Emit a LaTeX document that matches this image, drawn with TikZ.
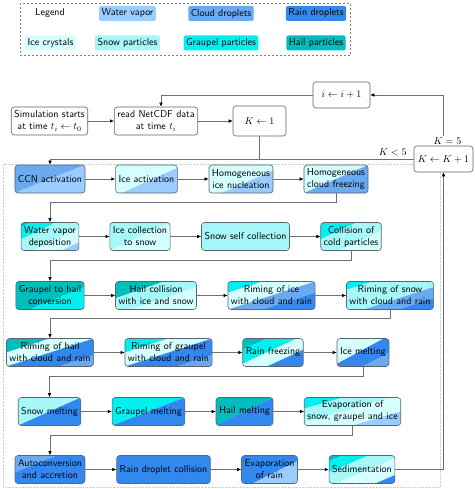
\documentclass[tikz,border=0pt]{standalone}
\usetikzlibrary{calc,positioning,arrows.meta}
\definecolor{vapor}{HTML}{99CCFF}
\definecolor{cloud}{HTML}{6AAAF0}
\definecolor{rain}{HTML}{3388EE}
\definecolor{ice}{HTML}{D5FFFF}
\definecolor{snow}{HTML}{A6F8F8}
\definecolor{graupel}{HTML}{00F0F0}
\definecolor{hail}{HTML}{00BEBE}
\definecolor{nodeline}{HTML}{5A6470}
\definecolor{connline}{HTML}{707070}
\newcommand\bandfill[3]{%
  \fill[#3,draw=none]
   ($(path picture bounding box.north west)!#1!(path picture bounding box.south east)+(path picture bounding box.north east)-(path picture bounding box.south west)$)
   -- ($(path picture bounding box.north west)!#2!(path picture bounding box.south east)+(path picture bounding box.north east)-(path picture bounding box.south west)$)
   -- ($(path picture bounding box.north west)!#2!(path picture bounding box.south east)-(path picture bounding box.north east)+(path picture bounding box.south west)$)
   -- ($(path picture bounding box.north west)!#1!(path picture bounding box.south east)-(path picture bounding box.north east)+(path picture bounding box.south west)$)
   -- cycle;}
\tikzset{
  proc/.style={draw=nodeline, line width=0.6pt, rounded corners=3pt, align=center,
    inner xsep=3pt, inner ysep=2pt, minimum height=28pt, font=\sffamily},
  mix/.style={path picture={\foreach \cc/\aa/\bb in {#1}{\bandfill{\aa}{\bb}{\cc}}}},
  ctrl/.style={draw=nodeline, line width=0.6pt, fill=white, rounded corners=3pt, align=center,
    inner xsep=3pt, inner ysep=2pt, minimum height=28pt, font=\sffamily},
  leg/.style={rounded corners=2pt, inner xsep=2.5pt, inner ysep=2pt, minimum height=15pt, font=\sffamily},
  conn/.style={draw=connline, line width=0.6pt, -{Latex[length=4pt,width=3.5pt,color=black]}},
  plain/.style={draw=connline, line width=0.6pt},
}
\begin{document}
\begin{tikzpicture}[x=1pt,y=-1pt]
\useasboundingbox (0,0) rectangle (474,489);
% legend
\draw[dashed, black!50, dash pattern=on 2pt off 2pt] (20,3) rectangle (350,55.5);
\node[font=\sffamily] (lg) at (50,13.5) {Legend};
\node[leg, fill=vapor] (lv) at (127.5,13.5) {Water vapor};
\node[leg, fill=cloud] (lc) at (221,13.5) {Cloud droplets};
\node[leg, fill=rain] (lr) at (316,13.5) {Rain droplets};
\node[leg, fill=ice] (li) at (50.5,43) {Ice crystals};
\node[leg, fill=snow] (ls) at (127.5,43) {Snow particles};
\node[leg, fill=graupel] (lgr) at (221,43) {Graupel particles};
\node[leg, fill=hail] (lh) at (316,43) {Hail particles};
% frame
\draw[densely dotted, black!18] (3,164) rectangle (440,487);
% control nodes
\node[ctrl] (sim) at (49.5,121) {Simulation starts\\at time $t_i\leftarrow t_0$};
\node[ctrl] (read) at (156,121) {read NetCDF data\\at time $t_i$};
\node[ctrl, minimum width=53pt, minimum height=30pt] (k1) at (259.5,121) {$K\leftarrow 1$};
\node[ctrl, minimum width=57pt, minimum height=26pt] (inc) at (341.5,95) {$i\leftarrow i+1$};
\node[ctrl, minimum width=59pt, minimum height=26pt] (kk) at (443.5,159) {$K\leftarrow K+1$};
\node[above=0pt of kk.north, xshift=4pt, inner sep=1pt] (k5) {$K=5$};
\node[above left=2pt and 6pt of kk.west, inner sep=1pt] (k4) {$K<5$};
% row 1
\node[proc, mix={cloud/0/0.5,vapor/0.5/1}] (ccn) at (50,179) {CCN activation};
\node[proc, mix={ice/0/0.55,vapor/0.55/1}] (ia) at (146.5,179) {Ice activation};
\node[proc, mix={ice/0/0.6,vapor/0.6/1}] (hin) at (241,179) {Homogeneous\\ice nucleation};
\node[proc, mix={ice/0/0.5,cloud/0.5/1}] (hcf) at (336,179) {Homogeneous\\cloud freezing};
% row 2
\node[proc, mix={hail/0/0.08,graupel/0.08/0.3,snow/0.3/0.6,ice/0.6/0.85,vapor/0.85/1}] (wvd) at (50,236.5) {Water vapor\\deposition};
\node[proc, mix={snow/0/0.5,ice/0.5/1}] (ics) at (140,236.5) {Ice collection\\to snow};
\node[proc, mix={snow/0/1}] (ssc) at (245.5,236.5) {Snow self collection};
\node[proc, mix={graupel/0/0.3,snow/0.3/0.65,ice/0.65/1}] (ccp) at (351,236.5) {Collision of\\cold particles};
% row 3
\node[proc, mix={hail/0/0.6,graupel/0.6/1}] (ghc) at (50,295.5) {Graupel to hail\\conversion};
\node[proc, mix={hail/0/0.3,snow/0.3/0.6,ice/0.6/1}] (hcis) at (156,295.5) {Hail collision\\with ice and snow};
\node[proc, mix={graupel/0/0.2,ice/0.2/0.5,cloud/0.5/0.7,rain/0.7/1}] (rimi) at (271.5,295.5) {Riming of ice\\with cloud and rain};
\node[proc, mix={graupel/0/0.15,snow/0.15/0.6,cloud/0.6/0.8,rain/0.8/1}] (rims) at (390,295.5) {Riming of snow\\with cloud and rain};
% row 4
\node[proc, mix={hail/0/0.25,ice/0.25/0.5,rain/0.5/0.8,cloud/0.8/1}] (rimh) at (50,352.5) {Riming of hail\\with cloud and rain};
\node[proc, mix={graupel/0/0.25,ice/0.25/0.5,rain/0.5/0.8,cloud/0.8/1}] (rimg) at (168.5,352.5) {Riming of graupel\\with cloud and rain};
\node[proc, mix={hail/0/0.2,graupel/0.2/0.45,ice/0.45/0.7,rain/0.7/1}] (rf) at (273,352.5) {Rain freezing};
\node[proc, mix={ice/0/0.45,rain/0.45/0.75,cloud/0.75/1}] (im) at (363,352.5) {Ice melting};
% row 5
\node[proc, mix={snow/0/0.5,rain/0.5/1}] (sm) at (49.5,411.5) {Snow melting};
\node[proc, mix={graupel/0/0.5,rain/0.5/1}] (gm) at (148.5,411.5) {Graupel melting};
\node[proc, mix={hail/0/0.5,rain/0.5/1}] (hm) at (244.5,411.5) {Hail melting};
\node[proc, mix={graupel/0/0.2,snow/0.2/0.45,ice/0.45/0.75,vapor/0.75/1}] (evs) at (352.5,411.5) {Evaporation of\\snow, graupel and ice};
% row 6
\node[proc, mix={cloud/0/0.3,rain/0.3/1}] (ac) at (50,469.5) {Autoconversion\\and accretion};
\node[proc, mix={rain/0/1}] (rdc) at (163.5,469.5) {Rain droplet collision};
\node[proc, mix={rain/0/0.6,vapor/0.6/1}] (evr) at (269.5,469.5) {Evaporation\\of rain};
\node[proc, mix={hail/0/0.1,graupel/0.1/0.3,snow/0.3/0.55,ice/0.55/0.85,rain/0.85/1}] (sed) at (362,469.5) {Sedimentation};
% gap coordinates
\coordinate (g1) at (0,202);
\coordinate (g2) at (0,260);
\coordinate (g3) at (0,318);
\coordinate (g4) at (0,376);
\coordinate (g5) at (0,435);
% top connectors
\draw[conn] (sim) -- (read);
\draw[conn] (read) -- (k1);
\draw[plain] (k1.south) -- (k1.south |- kk.west);
\draw[conn] (kk.west) -| (ccn.north);
\draw[conn] (k5.north -| kk.north) |- (inc.east);
\draw[conn] (inc.west) -| ([xshift=5pt]read.north);
\draw[conn] (sed.east) -| (kk.south);
% row connectors
\draw[conn] (ccn) -- (ia);
\draw[conn] (ia) -- (hin);
\draw[conn] (hin) -- (hcf);
\draw[conn] (hcf.south) -- (hcf.south |- g1) -| (wvd.north);
\draw[conn] (wvd) -- (ics);
\draw[conn] (ics) -- (ssc);
\draw[conn] (ssc) -- (ccp);
\draw[conn] (ccp.south) -- (ccp.south |- g2) -| (ghc.north);
\draw[conn] (ghc) -- (hcis);
\draw[conn] (hcis) -- (rimi);
\draw[conn] (rimi) -- (rims);
\draw[conn] (rims.south) -- (rims.south |- g3) -| (rimh.north);
\draw[conn] (rimh) -- (rimg);
\draw[conn] (rimg) -- (rf);
\draw[conn] (rf) -- (im);
\draw[conn] (im.south) -- (im.south |- g4) -| (sm.north);
\draw[conn] (sm) -- (gm);
\draw[conn] (gm) -- (hm);
\draw[conn] (hm) -- (evs);
\draw[conn] (evs.south) -- (evs.south |- g5) -| (ac.north);
\draw[conn] (ac) -- (rdc);
\draw[conn] (rdc) -- (evr);
\draw[conn] (evr) -- (sed);
\end{tikzpicture}
\end{document}
